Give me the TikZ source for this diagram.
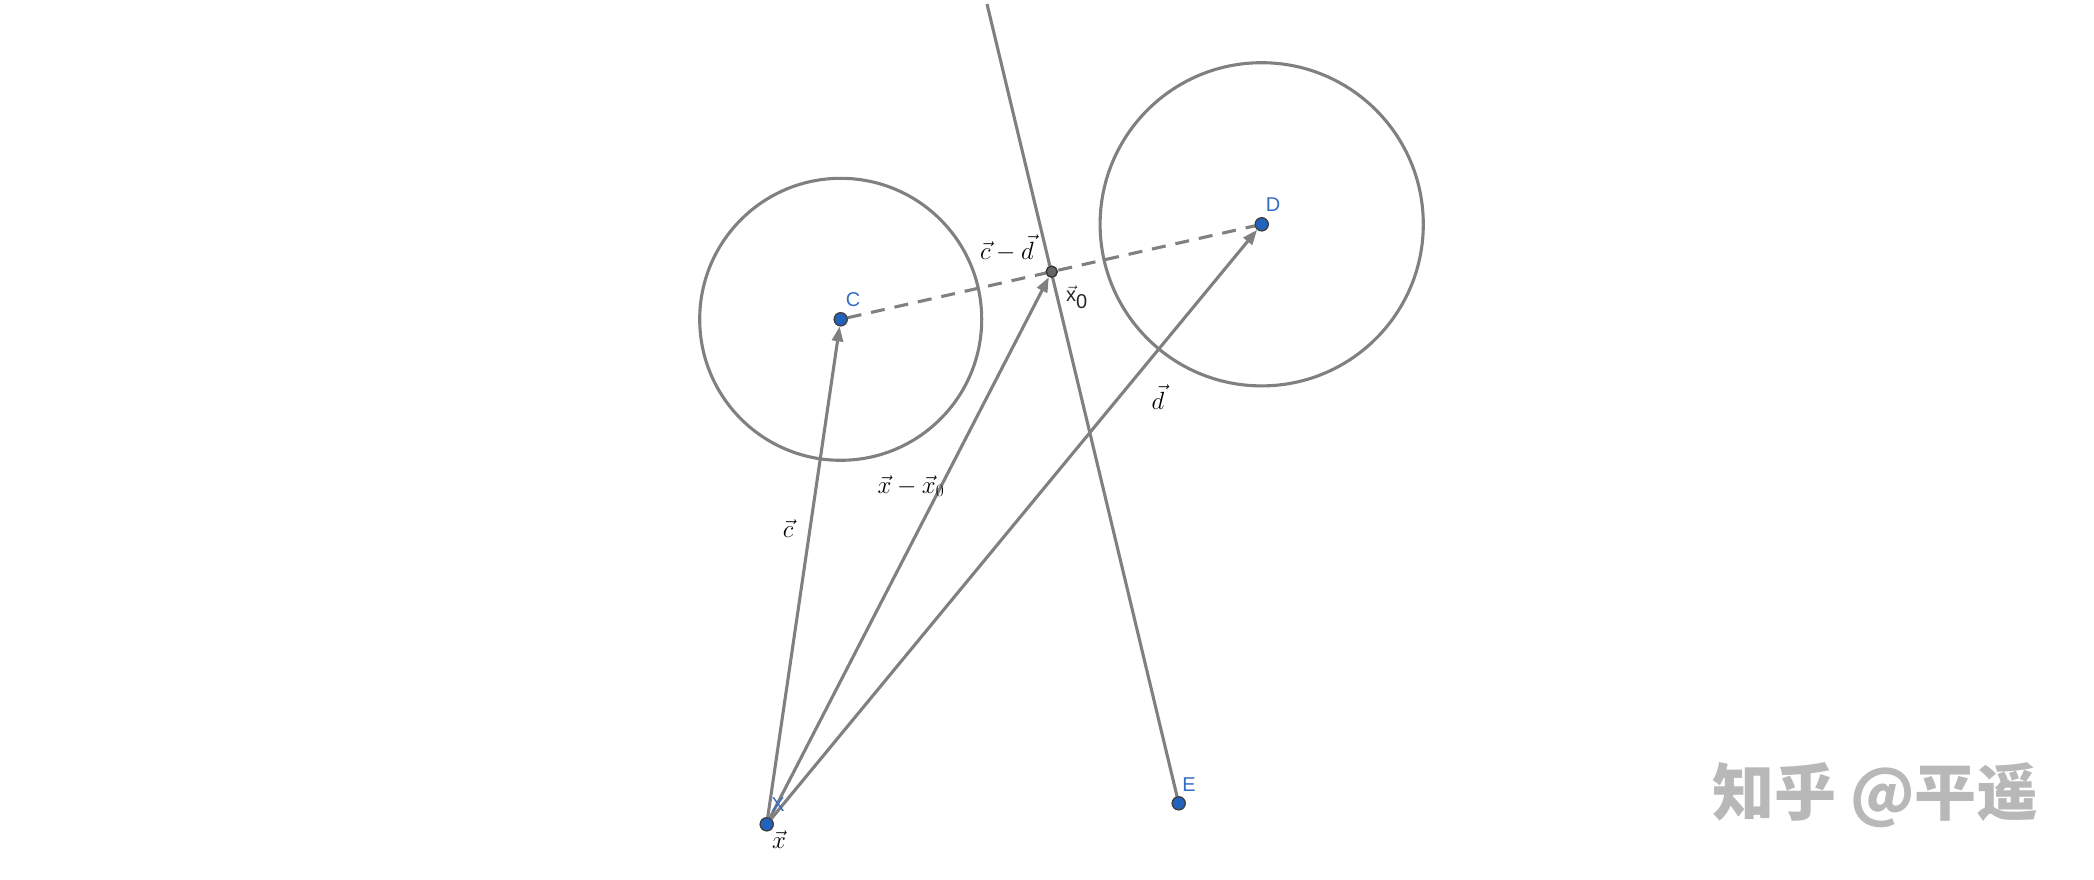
\documentclass[tikz,border=0pt]{standalone}
\usepackage{fontspec}
\setsansfont{Liberation Sans}
\newfontfamily\cjk{Noto Sans CJK SC}
\usetikzlibrary{arrows.meta}
\definecolor{geogray}{RGB}{128,128,128}
\definecolor{ptblue}{RGB}{33,98,189}
\definecolor{lblblue}{RGB}{52,110,195}
\begin{document}
\begin{tikzpicture}[x=1pt,y=-1pt,
  geoline/.style={draw=geogray,line width=3.1pt},
  vecarrow/.style={geoline,-{Triangle[length=15pt,width=11pt]}},
  bluept/.style={circle,fill=ptblue,draw=black!75,line width=1.2pt,inner sep=0pt,minimum size=13pt},
  graypt/.style={circle,fill=black!60,draw=black!80,line width=1.2pt,inner sep=0pt,minimum size=11pt},
  ptlabel/.style={text=lblblue,font=\sffamily\fontsize{20}{24}\selectfont,inner sep=0pt},
  mathlabel/.style={font=\fontsize{23}{28}\selectfont,inner sep=0pt},
  dashline/.style={geoline,dash pattern=on 14pt off 10pt}]
\useasboundingbox (0,0) rectangle (2094,880);
% circles
\draw[geoline] (840.7,319.3) circle (141);
\draw[geoline] (1261.7,224.3) circle (161.6);
% points
\node[bluept] (C) at (840.7,319.3) {};
\node[bluept] (D) at (1261.7,224.3) {};
\node[bluept] (X) at (766.7,824.3) {};
\node[bluept] (E) at (1178.7,803.3) {};
\node[graypt] (X0) at (1051.7,271.7) {};
\coordinate (top) at (987,4);
% line through X0
\draw[geoline] (top) -- (E.center);
% dashed segment C--D
\draw[dashline] (C) -- (D);
% vectors
\draw[vecarrow] (X.center) -- (C);
\draw[vecarrow] (X.center) -- (X0);
\draw[vecarrow] (X.center) -- (D);
% redraw points on top
\node[bluept] at (C) {};
\node[bluept] at (D) {};
\node[bluept] at (X) {};
\node[bluept] at (E) {};
\node[graypt] at (X0) {};
% labels
\node[ptlabel] (lC) at (853,300) {C};
\node[ptlabel] (lD) at (1273,205) {D};
\node[ptlabel] (lX) at (778,805) {X};
\node[ptlabel] (lE) at (1189,785) {E};
\node[font=\sffamily\fontsize{20}{24}\selectfont,inner sep=0pt,text=black!85] (lX0) at (1077,297) {$\vec{\textsf{x}}_{\textsf{0}}$};
\node[mathlabel] (lcd) at (1007,248) {$\vec c-\vec d$};
\node[mathlabel] (ld) at (1158,397) {$\vec d$};
\node[mathlabel] (lc) at (788,529) {$\vec c$};
\node[mathlabel] (lxx) at (911,486) {$\vec x-\vec x_0$};
\node[mathlabel] (lx) at (779,840) {$\vec x$};
% watermark
\node[text=black!28,font=\cjk\bfseries\fontsize{62}{70}\selectfont,inner sep=0pt,anchor=west] (wm) at (1712,795) {知乎 @平遥};
\end{tikzpicture}
\end{document}
